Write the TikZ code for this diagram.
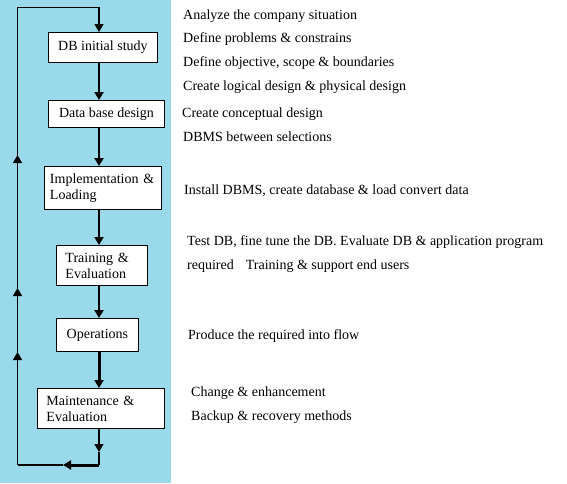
\documentclass[tikz,border=0pt]{standalone}
\usepackage{fontspec}
\setmainfont{Liberation Serif}
\usepackage{tikz}
\usetikzlibrary{arrows.meta}
\definecolor{sky}{RGB}{153,217,234}

\begin{document}
\begin{tikzpicture}
  [x=1pt, y=-1pt,
   every node/.style={font=\fontsize{14}{16}\selectfont},
   box/.style={draw, fill=white, line width=0.9pt, inner xsep=9pt, inner ysep=0pt, anchor=north west},
   note/.style={anchor=base west, inner sep=0pt},
   flow/.style={line width=2pt, -{Triangle[length=8pt,width=9pt]}},
   back/.style={line width=1.2pt, -{Triangle[length=8pt,width=9pt]}}]
  \useasboundingbox (0,0) rectangle (567,483);
  \fill[sky] (0,0) rectangle (171,483);
  \node[box, minimum width=109pt, minimum height=30pt] (study) at (48,32) {DB initial study};
  \node[box, minimum width=116pt, minimum height=27pt] (design) at (48,100) {Data base design};
  \node[box, minimum width=117pt, minimum height=43pt, inner xsep=5.5pt, text width=106pt, align=left] (impl) at (44,166) {Implementation \&\\Loading};
  \node[box, minimum width=91pt, minimum height=40pt, text width=73pt, align=left] (train) at (56,245) {Training \&\\Evaluation};
  \node[box, minimum width=82pt, minimum height=33pt] (oper) at (56,318) {Operations};
  \node[box, minimum width=127pt, minimum height=40pt, text width=109pt, align=left] (maint) at (37,388) {Maintenance \&\\Evaluation};
  \coordinate (tr) at (99,7.5);
  \coordinate (tl) at (17.5,7.5);
  \coordinate (br) at (99,465);
  \coordinate (bl) at (17.5,465);
  \coordinate (down) at (99,452);
  \coordinate (left) at (63,465);
  \coordinate (up1) at (17.5,352);
  \coordinate (up2) at (17.5,288);
  \coordinate (up3) at (17.5,155);
  \draw[flow] (study.south -| tr) -- (design.north -| tr);
  \draw[flow] (design.south -| tr) -- (impl.north -| tr);
  \draw[flow] (impl.south -| tr) -- (train.north -| tr);
  \draw[flow] (train.south -| tr) -- (oper.north -| tr);
  \draw[flow, line width=3pt] (oper.south -| tr) -- (maint.north -| tr);
  \draw[back] (maint.south -| tr) -- (down);
  \draw[line width=1.2pt] (down) -- (br);
  \draw[flow, line width=3pt] (br) -- (left);
  \draw[line width=1.2pt] (left) -- (bl);
  \draw[back] (bl) -- (up1);
  \draw[back] (up1) -- (up2);
  \draw[back] (up2) -- (up3);
  \draw[back] (up3) -- (tl) -- (tr) -- (study.north -| tr);
  \node[note] (n1) at (183,19) {Analyze the company situation};
  \node[note] (n2) at (183,42.7) {Define problems \& constrains};
  \node[note] (n3) at (183,66.7) {Define objective, scope \& boundaries};
  \node[note] (n4) at (183,90.7) {Create logical design \& physical design};
  \node[note] (n5) at (182,117.3) {Create conceptual design};
  \node[note] (n6) at (183,141.7) {DBMS between selections};
  \node[note] (n7) at (184,194) {Install DBMS, create database \& load convert data};
  \node[note] (n8) at (187,245) {Test DB, fine tune the DB. Evaluate DB \& application program};
  \node[note] (n9) at (187,269) {required\hspace{12pt}Training \& support end users};
  \node[note] (n10) at (188,339.3) {Produce the required into flow};
  \node[note] (n11) at (191,396) {Change \& enhancement};
  \node[note] (n12) at (191,420.7) {Backup \& recovery methods};
\end{tikzpicture}
\end{document}
